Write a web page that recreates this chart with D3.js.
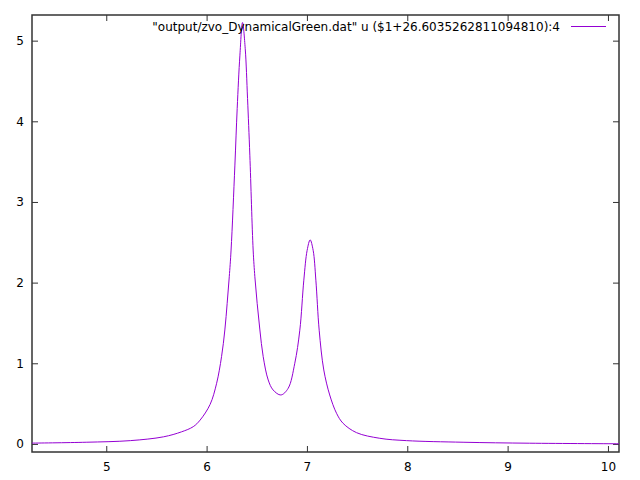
<!DOCTYPE html>
<html lang="en">
	<head>
		<meta charset="utf-8">
		<title>DynamicalGreen</title>
		<script type="text/javascript" src="https://cdn.jsdelivr.net/npm/d3@7"></script>
		<style type="text/css">
			body { margin: 0; background: #fff; }
			text { font-family: "DejaVu Sans", sans-serif; font-size: 12px; fill: #000; }
		</style>
	</head>
	<body>
		<script type="text/javascript">

			//Width and height
			var w = 640;
			var h = 480;

			// values
			var xs = [4.26, 4.80, 5.24, 5.57, 5.75, 5.867, 5.935, 6.035, 6.10, 6.149, 6.182, 6.205,
				6.226, 6.244, 6.282, 6.305, 6.332, 6.358, 6.385, 6.408, 6.431, 6.464, 6.481, 6.504,
				6.531, 6.564, 6.614, 6.663, 6.74, 6.813, 6.879, 6.929, 6.969, 7.002, 7.032, 7.062,
				7.089, 7.122, 7.168, 7.227, 7.295, 7.36, 7.494, 7.726, 7.992, 8.556, 9.22, 10.11];
			var ys = [0.010, 0.021, 0.041, 0.088, 0.150, 0.214, 0.295, 0.49, 0.752, 1.082, 1.413, 1.743,
				2.073, 2.404, 3.457, 4.16, 4.82, 5.225, 4.90, 4.284, 3.58, 2.404, 2.073, 1.743,
				1.413, 1.082, 0.793, 0.669, 0.607, 0.69, 1.0, 1.41, 2.03, 2.40, 2.53, 2.40,
				2.03, 1.41, 0.917, 0.607, 0.38, 0.256, 0.14, 0.07, 0.041, 0.021, 0.009, 0.002];
			var xTicks = [5, 6, 7, 8, 9, 10];
			var yTicks = [0, 1, 2, 3, 4, 5];
			var title = "\"output/zvo_DynamicalGreen.dat\" u ($1+26.6035262811094810):4";

			var padL = 32, padR = 619, padT = 15, padB = 452;

			var x = d3.scaleLinear().domain([4.26, 10.11]).range([padL, padR]);
			var y = d3.scaleLinear().domain([-0.1, 5.318]).range([padB, padT]);

			//Create SVG element
			var svg = d3.select("body")
						.append("svg")
						.attr("width", w)
						.attr("height", h);

			var tickColor = "#333";
			var fmt = d3.format("d");

			// bottom and top axes, ticks pointing inward
			svg.append("g").attr("transform", "translate(0," + padB + ")")
				.call(d3.axisBottom(x).tickValues(xTicks).tickFormat(fmt).tickSizeInner(-6).tickSizeOuter(0).tickPadding(10));
			svg.append("g").attr("transform", "translate(0," + padT + ")")
				.call(d3.axisTop(x).tickValues(xTicks).tickSizeInner(-6).tickSizeOuter(0).tickFormat(""));
			svg.append("g").attr("transform", "translate(" + padL + ",0)")
				.call(d3.axisLeft(y).tickValues(yTicks).tickFormat(fmt).tickSizeInner(-6).tickSizeOuter(0).tickPadding(8));
			svg.append("g").attr("transform", "translate(" + padR + ",0)")
				.call(d3.axisRight(y).tickValues(yTicks).tickSizeInner(-6).tickSizeOuter(0).tickFormat(""));

			svg.selectAll(".domain").remove();
			svg.selectAll(".tick line").attr("stroke", tickColor).attr("stroke-width", 1);
			svg.selectAll(".tick text").style("font-family", "DejaVu Sans").style("font-size", "12px").attr("fill", "#000");

			// frame
			svg.append("rect")
				.attr("x", padL).attr("y", padT)
				.attr("width", padR - padL).attr("height", padB - padT)
				.attr("fill", "none").attr("stroke", tickColor).attr("stroke-width", 1.5);

			var pts = xs.map(function(d, i) { return [d, ys[i]]; });

			var line = d3.line()
				.x(function(d) { return x(d[0]); })
				.y(function(d) { return y(d[1]); })
				.curve(d3.curveCatmullRom.alpha(0.5));

			svg.append("path")
				.datum(pts)
				.attr("d", line)
				.attr("fill", "none")
				.attr("stroke", "#9400d3")
				.attr("stroke-width", 1);

			// key
			svg.append("text")
				.attr("x", 560).attr("y", 31)
				.attr("text-anchor", "end")
				.text(title);
			svg.append("line")
				.attr("x1", 571).attr("x2", 606)
				.attr("y1", 26.5).attr("y2", 26.5)
				.attr("stroke", "#9400d3").attr("stroke-width", 1);

		</script>
	</body>
</html>
